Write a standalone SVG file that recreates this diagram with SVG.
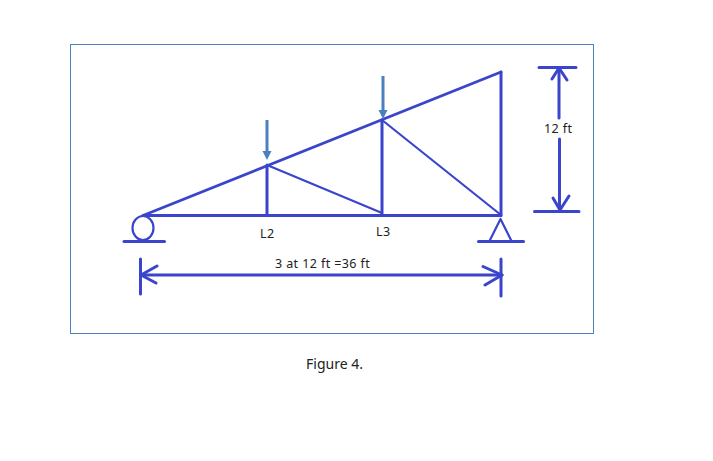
<svg xmlns="http://www.w3.org/2000/svg" width="713" height="461" viewBox="0 0 713 461">
<style>
.m{stroke:#3a45cc;stroke-width:3;fill:none;stroke-linecap:round;stroke-linejoin:round}
.t{stroke-width:2.800}
.n{stroke-width:2.200}
.l{stroke:#4a80bd;stroke-width:3;fill:none}
.h{fill:#4a80bd}
text{font-family:"Noto Sans","Open Sans",sans-serif;font-size:12.500px;fill:#222;letter-spacing:.4px}
</style>
<rect width="713" height="461" fill="#fff"/>
<rect id="frame" x="70.500" y="44.500" width="523" height="289" fill="none" stroke="#4f81bd" stroke-width="1"/>
<g id="connectors">
<path class="m t" d="M143 215.500L501 72"/>
<path class="m" d="M143 215.500H501"/>
<path class="m" d="M267 165V215M382 120V214M501 72V215"/>
<path class="m n" d="M267 165L382 213M382 120L501 215"/>
</g>
<g id="roller-support"><ellipse class="m n" cx="143" cy="228" rx="10.500" ry="12"/><path class="m" d="M124 241.500H164.500"/></g>
<g id="pin-support"><path class="m n" d="M500.500 219L490 240M500.500 219L511 240"/><path class="m" d="M478.500 241.500H523.500"/></g>
<g id="load-l2"><path class="l" d="M267 120V153"/><path class="h" d="M262.500 151H271.500L267 160Z"/></g>
<g id="load-l3"><path class="l" d="M383 76V112"/><path class="h" d="M378.500 110H387.500L383 119Z"/></g>
<g id="dim-width">
<path class="m" d="M141 275H502M140.500 259V294M501 259V296"/>
<path class="m" d="M141 275L157 266M141 275L156 283M502 275L483 266.500M502 275L485 285"/>
</g>
<g id="dim-height">
<path class="m" d="M559 68V118M559.500 139V210"/>
<path class="m" d="M539 67.500H576M534.500 211.500H579"/>
<path class="m" d="M559 68L552 79M559 68L567 80M560 210L553 198M560 210L569 196"/>
</g>
<g id="labels">
<text x="260" y="238">L2</text>
<text x="376" y="236">L3</text>
<text x="275" y="268">3 at 12 ft =36 ft</text>
<text x="544" y="133">12 ft</text>
<text x="306" y="369" style="font-size:14px;letter-spacing:0">Figure 4.</text>
</g>
</svg>
